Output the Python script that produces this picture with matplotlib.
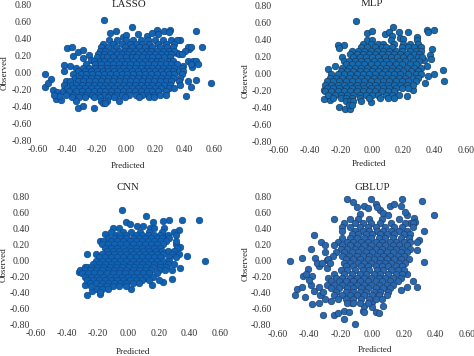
import matplotlib
matplotlib.use("Agg")
import matplotlib.pyplot as plt

W, H = 474, 356
plt.rcParams['font.family'] = ['Liberation Serif', 'DejaVu Serif']

xticks = [-0.6, -0.4, -0.2, 0.0, 0.2, 0.4, 0.6]
yticks = [-0.8, -0.6, -0.4, -0.2, 0.0, 0.2, 0.4, 0.6, 0.8]

# Scattered points
lasso_x = [-.15,.04,-.07,-.11,-.115,.48,.52,.58,.48,.41,.44,.21,.26,.30,.29,-.555,-.51,-.555,-.53,-.48,-.44,-.40,-.37,-.38,-.425,-.425,-.33,-.22,-.29,-.36,-.33,-.29,-.25,-.50,-.47,-.46,-.43,-.49,-.02,0.0,.08,.14,.18,.22,-.29,-.24,.39,.35,.37,.43,.45]
lasso_y = [.62,.54,.49,.47,.38,.49,.30,-.12,-.09,-.27,-.17,.50,.49,.50,.48,-.02,-.07,-.17,-.12,-.31,-.32,.29,.30,.08,.09,.02,-.42,-.42,-.39,.20,.24,.27,.21,-.2,-.23,-.27,-.22,-.26,.42,.44,.46,.43,.47,.45,.17,.15,.08,.23,.39,.28,.07]
# Dense region: observed level -> predicted values
lasso_rows = {
 .39: [-.06,.0,.05,.1,.15,.2,.25,.31,.35],
 .34: [-.16,-.09,-.03,.03,.07,.11,.16,.22,.27,.33],
 .30: [-.17,-.12,-.07,-.01,.04,.09,.13,.18,.23,.28,.32,.42,.44],
 .26: [-.18,-.14,-.09,-.05,-.01,.02,.06,.1,.14,.17,.21,.25,.29,.33,.4],
 .22: [-.19,-.15,-.11,-.06,-.03,.01,.05,.08,.12,.16,.2,.24,.28,.31,.36,.38],
 .18: [-.2,-.16,-.13,-.09,-.04,0,.04,.07,.11,.15,.18,.22,.26,.3],
 .14: [-.22,-.18,-.15,-.11,-.07,-.03,.01,.05,.09,.13,.17,.21,.24,.29,.32,.42,.46,.48],
 .10: [-.27,-.21,-.17,-.13,-.09,-.05,-.01,.03,.07,.11,.15,.19,.23,.27,.31,.35,.44,.49],
 .06: [-.34,-.29,-.25,-.21,-.17,-.13,-.09,-.05,-.02,.02,.06,.1,.14,.18,.22,.25,.29,.33,.38],
 .02: [-.33,-.28,-.24,-.2,-.16,-.12,-.08,-.04,0,.04,.08,.12,.16,.2,.24,.28,.32,.36,.39],
 -.02: [-.36,-.31,-.27,-.23,-.19,-.15,-.11,-.07,-.03,.01,.05,.09,.13,.17,.21,.25,.29,.33,.38],
 -.06: [-.35,-.32,-.28,-.24,-.2,-.16,-.12,-.08,-.04,0,.04,.08,.12,.16,.2,.24,.28,.32,.37],
 -.10: [-.41,-.38,-.33,-.29,-.25,-.21,-.17,-.13,-.09,-.05,-.01,.03,.07,.11,.15,.19,.23,.27,.31,.36,.42],
 -.14: [-.42,-.37,-.34,-.3,-.26,-.22,-.18,-.14,-.1,-.06,-.02,.02,.06,.1,.14,.18,.22,.26,.3,.37],
 -.18: [-.4,-.36,-.32,-.28,-.24,-.2,-.16,-.12,-.08,-.04,0,.04,.08,.12,.16,.2,.24,.29,.33],
 -.22: [-.39,-.34,-.3,-.26,-.22,-.18,-.14,-.1,-.06,-.02,.02,.06,.1,.14,.18,.22,.27],
 -.26: [-.41,-.36,-.31,-.27,-.23,-.19,-.15,-.11,-.07,-.03,.02,.07,.11,.15,.19,.23,.27],
 -.29: [-.37,-.32,-.28,-.22,-.18,-.12,-.08,-.01,.09,.16,.19],
 -.33: [-.34,-.17,-.13,-.05],
 -.36: [-.16,-.14],
}

mlp_x = [-.105,.135,.35,.355,.395,-.035,0.0,.08,.11,.17,.23,.45,.46,.395,.355,.34,.385,.37,.375,.35,.33,-.18,-.22,-.215,-.235,-.28,-.31,-.305,-.21,-.175,-.14,-.01,-.27,.22,.26,.17,.285,.285,.18,.2,.13]
mlp_y = [.625,.545,.51,.49,.51,.48,.50,.47,.485,.485,.485,.045,-.09,0.0,-.03,-.11,.285,.22,.17,.09,.16,.335,.335,.30,.09,.05,-.30,-.19,-.39,-.42,-.415,-.34,-.31,-.27,-.195,-.255,.435,.395,.42,.41,.44]
mlp_rows = {
 .40: [-.03,.0,.12],
 .35: [-.06,-.01,.04,.07,.14,.2,.24,.29],
 .31: [-.07,-.03,.02,.06,.09,.13,.19,.23,.27,.31],
 .27: [-.13,-.09,-.05,-.01,.03,.07,.11,.15,.19,.24,.28,.31],
 .23: [-.14,-.1,-.06,-.02,.02,.06,.1,.14,.18,.22,.27,.3],
 .19: [-.19,-.12,-.08,-.04,0,.04,.08,.12,.16,.2,.24,.29,.32],
 .15: [-.18,-.15,-.11,-.07,-.03,.01,.05,.09,.13,.17,.21,.26,.3],
 .11: [-.17,-.13,-.09,-.05,-.01,.03,.07,.11,.15,.19,.24,.28],
 .07: [-.19,-.15,-.11,-.07,-.03,.01,.05,.09,.13,.17,.22,.27,.31],
 .03: [-.2,-.16,-.12,-.08,-.04,0,.04,.08,.12,.16,.2,.25,.29],
 -.01: [-.26,-.22,-.18,-.14,-.1,-.06,-.02,.02,.06,.1,.14,.18,.23,.28,.31],
 -.05: [-.27,-.23,-.19,-.15,-.11,-.07,-.03,.01,.05,.09,.13,.17,.21,.26,.29],
 -.09: [-.29,-.25,-.21,-.17,-.13,-.09,-.05,-.01,.03,.07,.11,.15,.19,.23,.28],
 -.13: [-.3,-.26,-.22,-.18,-.14,-.1,-.06,-.02,.02,.06,.1,.14,.18,.22,.26],
 -.17: [-.29,-.25,-.21,-.17,-.13,-.09,-.05,-.01,.03,.07,.11,.15,.19,.23],
 -.21: [-.3,-.26,-.22,-.18,-.14,-.1,-.06,-.02,.02,.06,.1,.14],
 -.25: [-.28,-.24,-.2,-.16,-.12,-.08,-.04,0,.04,.09,.13],
 -.29: [-.25,-.2,-.17,-.13,-.08,-.02,.05,.1,.14],
 -.33: [-.17,-.14,-.12,-.07],
 -.37: [-.15,-.13],
}

cnn_x = [-.04,.12,.35,.465,.27,.225,.50,.385,.34,.285,.23,.205,-.265,-.265,-.18,.02,-.32,-.315,-.015,.01,.10,.06,.16,.145,.235,.33,.34,.31,.155,.105,-.28,-.28,-.235,-.15,-.18,.24]
cnn_y = [.625,.55,.505,.50,.51,.495,0.0,.055,-.095,-.225,-.27,-.24,.08,-.425,-.42,-.35,-.145,-.115,.48,.46,.435,.435,.48,.41,.40,.375,.165,.21,-.30,-.22,-.085,-.30,-.385,.335,.24,.30]
cnn_rows = {
 .40: [-.1,-.06,.17],
 .36: [-.11,-.03,.02,.08,.14,.22,.3],
 .32: [-.08,-.05,-.01,.05,.09,.13,.17,.21,.26,.31],
 .28: [-.13,-.09,-.05,-.01,.03,.07,.11,.15,.19,.22,.27],
 .24: [-.16,-.11,-.07,-.03,.01,.05,.09,.13,.17,.21,.25,.31],
 .20: [-.17,-.13,-.09,-.05,-.01,.03,.07,.11,.15,.19,.23],
 .16: [-.15,-.11,-.07,-.03,.01,.05,.09,.13,.17,.21,.32],
 .12: [-.14,-.1,-.06,-.02,.02,.06,.1,.14,.18,.22,.26,.3],
 .08: [-.21,-.17,-.13,-.09,-.05,-.01,.03,.07,.11,.15,.19,.23,.29,.33],
 .04: [-.19,-.15,-.11,-.07,-.03,.01,.05,.09,.13,.17,.21,.27,.31],
 0.0: [-.21,-.17,-.13,-.09,-.05,-.01,.03,.07,.11,.15,.19,.23,.27],
 -.04: [-.23,-.19,-.15,-.11,-.07,-.03,.01,.05,.09,.13,.17,.21,.26,.3],
 -.08: [-.27,-.24,-.2,-.16,-.12,-.08,-.04,0,.04,.08,.12,.16,.21,.25],
 -.12: [-.28,-.25,-.21,-.17,-.13,-.09,-.05,-.01,.03,.07,.11,.15,.2,.24,.29],
 -.16: [-.3,-.26,-.22,-.18,-.14,-.1,-.06,-.02,.02,.06,.1,.14,.19],
 -.20: [-.28,-.24,-.2,-.16,-.12,-.08,-.04,0,.04,.08,.12,.16],
 -.24: [-.27,-.23,-.19,-.15,-.11,-.07,-.03,.01,.05,.09,.14],
 -.28: [-.25,-.21,-.17,-.13,-.09,-.05,-.01,.03,.07],
 -.32: [-.24,-.18,-.14,-.1,-.06,-.01],
 -.36: [-.2,-.17,-.13],
 -.39: [-.18],
}

gblup_x = [-.16,-.12,-.01,.185,.315,.39,-.055,-.1,.02,.05,.115,.14,.18,.22,.265,.27,-.24,-.08,.33,.295,.285,.325,-.37,-.39,-.52,-.445,-.365,-.325,-.30,-.30,-.41,-.44,-.38,-.48,-.49,-.445,-.425,-.385,-.34,-.31,-.245,-.215,-.18,-.18,-.145,-.11,-.06,-.055,.025,.045,.07,-.13,0.0,-.26,-.3,-.37,.26,.285,.22,.18,.22,-.39,-.34,-.35,-.29,-.29,-.42,-.4,-.34,-.03,.03,.07,.1,.21,.24,.28,-.33,.0,-.05]
gblup_y = [.77,.74,.77,.77,.745,.57,.69,.67,.71,.64,.68,.71,.68,.575,.54,.49,.52,.585,.37,.26,.14,-.01,.325,.15,0.0,.035,.035,.235,.2,.11,-.10,-.19,-.19,-.35,-.425,-.33,-.445,-.54,-.525,-.67,-.67,-.65,-.72,-.62,-.64,-.785,-.62,-.64,-.64,-.655,-.565,-.525,-.515,-.505,-.47,-.38,-.255,-.33,-.32,-.36,-.17,-.30,-.07,-.03,.015,-.09,-.16,-.24,-.32,.66,.67,.6,.57,.61,.47,.24,-.42,-.58,-.56]
gblup_rows = {
 .52: [-.14,-.09,-.02,.06,.17],
 .47: [-.18,-.11,-.06,-.01,.05,.12,.21,.26],
 .42: [-.19,-.14,-.08,-.03,.02,.08,.14,.19,.26],
 .37: [-.19,-.11,-.06,-.02,.03,.07,.12,.17,.22],
 .33: [-.13,-.09,-.04,0,.05,.09,.14,.2,.24],
 .29: [-.19,-.14,-.1,-.05,-.01,.04,.08,.13,.18,.23],
 .24: [-.22,-.16,-.12,-.07,-.03,.02,.06,.11,.15,.2,.24],
 .20: [-.24,-.19,-.14,-.1,-.05,-.01,.04,.08,.13,.17,.22],
 .15: [-.2,-.16,-.11,-.07,-.02,.02,.06,.11,.15,.19,.24],
 .11: [-.23,-.18,-.13,-.09,-.04,0,.05,.09,.13,.18,.22],
 .06: [-.25,-.19,-.15,-.1,-.06,-.02,.03,.07,.11,.16,.2],
 .02: [-.28,-.17,-.12,-.08,-.03,.01,.05,.09,.14,.18,.23],
 -.03: [-.32,-.27,-.18,-.14,-.09,-.05,-.01,.04,.08,.12,.17,.21],
 -.07: [-.17,-.12,-.07,-.03,.02,.06,.1,.15,.19],
 -.12: [-.2,-.16,-.11,-.06,-.02,.03,.07,.12,.16,.2],
 -.16: [-.24,-.18,-.13,-.08,-.04,.01,.05,.1,.15,.19],
 -.21: [-.28,-.23,-.19,-.14,-.1,-.05,-.01,.04,.08,.13,.18],
 -.25: [-.26,-.21,-.17,-.12,-.08,-.03,.02,.06,.11,.16],
 -.30: [-.29,-.24,-.19,-.14,-.1,-.05,-.01,.04,.09,.13],
 -.34: [-.26,-.21,-.16,-.12,-.07,-.03,.02,.07,.11],
 -.39: [-.31,-.23,-.17,-.12,-.08,-.04,.01,.05,.1],
 -.43: [-.24,-.19,-.14,-.1,-.05,0,.04,.09],
 -.48: [-.22,-.17,-.12,-.07,-.02,.02,.06],
 -.53: [-.16,-.12,-.08,-.03],
}

panels = [
    ("LASSO", lasso_x, lasso_y, lasso_rows, (38, 214, 4.7, 140.7), (129, 4.7), (128, 165.7), (5, 73), "#1464b2", "#0d4487"),
    ("MLP", mlp_x, mlp_y, mlp_rows, (278.3, 466, 5.7, 141.3), (372, 4), (369, 164), (245.3, 81), "#156bb0", "#1b3c5e"),
    ("CNN", cnn_x, cnn_y, cnn_rows, (36, 220, 196.3, 324.7), (127.7, 188), (133, 352), (4, 264.7), "#1262b2", "#0d4b90"),
    ("GBLUP", gblup_x, gblup_y, gblup_rows, (277.7, 467, 196.7, 325), (372, 188), (375, 350), (245.3, 264), "#2a68ae", "#1d4074"),
]

fig = plt.figure(figsize=(W / 100, H / 100), dpi=100, facecolor="white")

for title, xs, ys, rows, (l, r, t, b), tpos, xpos, ypos, fill, edge in panels:
    ax = fig.add_axes([l / W, 1 - b / H, (r - l) / W, (b - t) / H])
    px = list(xs)
    py = list(ys)
    for level, values in rows.items():
        px += values
        py += [level] * len(values)
    ax.scatter(px, py, s=22, c=fill, edgecolors=edge, linewidths=0.5, clip_on=False, zorder=3)
    ax.set_xlim(-0.6, 0.6)
    ax.set_ylim(-0.8, 0.8)
    ax.set_xticks(xticks)
    ax.set_yticks(yticks)
    ax.set_xticklabels([f"{v:.2f}" for v in xticks])
    ax.set_yticklabels([f"{v:.2f}" for v in yticks])
    ax.tick_params(length=0, labelsize=7, labelcolor="#333333")
    ax.tick_params(axis="x", pad=3.4)
    ax.tick_params(axis="y", pad=4.5)
    for s in ax.spines.values():
        s.set_visible(False)
    ax.patch.set_alpha(0)
    fig.text(tpos[0] / W, 1 - tpos[1] / H, title, ha="center", va="center", fontsize=7.8, color="#222222")
    fig.text(xpos[0] / W, 1 - xpos[1] / H, "Predicted", ha="center", va="center", fontsize=6.5, color="#222222")
    fig.text(ypos[0] / W, 1 - ypos[1] / H, "Observed", ha="center", va="center", rotation=90, fontsize=6.5, color="#222222")

fig.savefig("out.png", dpi=100)
